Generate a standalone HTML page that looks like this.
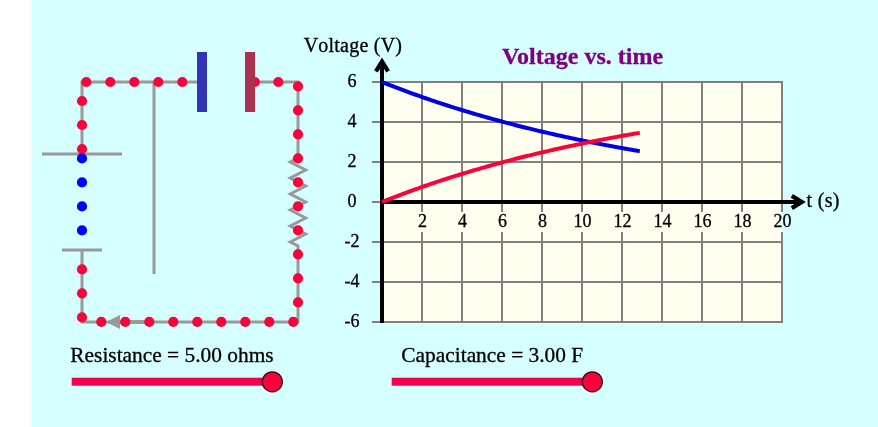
<!DOCTYPE html>
<html><head><meta charset="utf-8"><title>RC Circuit</title>
<style>
html,body{margin:0;padding:0;background:#fff;}
body{width:878px;height:427px;overflow:hidden;}
svg{display:block;}
text{font-family:"Liberation Serif","Times New Roman",Times,serif;fill:#000;stroke:#000;stroke-width:0.3px;}
</style></head><body>
<svg width="878" height="427" viewBox="0 0 878 427">
<rect x="31.6" y="0" width="847" height="427" fill="#d6ffff"/>

<g stroke="#999999" stroke-width="3" fill="none" stroke-linecap="butt" stroke-linejoin="miter">
<path d="M82 154 V82 H197"/>
<path d="M255 82 H298 V158"/>
<path d="M298 158 L290.3 162 L305.7 170 L290.3 178 L305.7 186 L290.3 194 L305.7 202 L290.3 210 L305.7 218 L290.3 226 L305.7 234 L290.3 242 L298 246 V322 H82 V250"/>
<path d="M154 82 V274"/>
<path d="M42 154 H122"/>
<path d="M62 250 H102"/>
</g>
<path d="M106 322 L120 315 V329 Z" fill="#999999"/>
<path d="M120 322 H146" stroke="#999999" stroke-width="4"/>
<g fill="#f8043a">
<circle cx="82.0" cy="149.0" r="5.1"/>
<circle cx="82.0" cy="125.0" r="5.1"/>
<circle cx="82.0" cy="101.0" r="5.1"/>
<circle cx="86.3" cy="82.0" r="5.1"/>
<circle cx="110.3" cy="82.0" r="5.1"/>
<circle cx="134.3" cy="82.0" r="5.1"/>
<circle cx="158.3" cy="82.0" r="5.1"/>
<circle cx="182.3" cy="82.0" r="5.1"/>
<circle cx="254.8" cy="82.0" r="5.1"/>
<circle cx="278.3" cy="82.0" r="5.1"/>
<circle cx="298.0" cy="86.3" r="5.1"/>
<circle cx="298.0" cy="110.3" r="5.1"/>
<circle cx="298.0" cy="134.3" r="5.1"/>
<circle cx="298.0" cy="158.3" r="5.1"/>
<circle cx="298.0" cy="182.3" r="5.1"/>
<circle cx="298.0" cy="206.3" r="5.1"/>
<circle cx="298.0" cy="230.3" r="5.1"/>
<circle cx="298.0" cy="254.3" r="5.1"/>
<circle cx="298.0" cy="278.3" r="5.1"/>
<circle cx="298.0" cy="302.3" r="5.1"/>
<circle cx="293.3" cy="321.9" r="5.1"/>
<circle cx="269.3" cy="321.9" r="5.1"/>
<circle cx="245.3" cy="321.9" r="5.1"/>
<circle cx="221.3" cy="321.9" r="5.1"/>
<circle cx="197.3" cy="321.9" r="5.1"/>
<circle cx="173.3" cy="321.9" r="5.1"/>
<circle cx="149.3" cy="321.9" r="5.1"/>
<circle cx="125.3" cy="321.9" r="5.1"/>
<circle cx="101.3" cy="321.9" r="5.1"/>
<circle cx="82.0" cy="317.4" r="5.1"/>
<circle cx="82.0" cy="293.3" r="5.1"/>
<circle cx="82.0" cy="269.4" r="5.1"/>
</g>
<g fill="#0000ff">
<circle cx="82" cy="158.4" r="5.1"/>
<circle cx="82" cy="182.4" r="5.1"/>
<circle cx="82" cy="206.4" r="5.1"/>
<circle cx="82" cy="230.4" r="5.1"/>
</g>
<rect x="197" y="52" width="10" height="60" fill="#3333b8"/>
<rect x="245" y="52" width="10" height="60" fill="#b03050"/>
<rect x="382" y="82" width="400" height="240" fill="#fffff0"/>
<g stroke="#808080" stroke-width="2">
<path d="M372 82 H783"/>
<path d="M372 122 H783"/>
<path d="M372 162 H783"/>
<path d="M372 202 H783"/>
<path d="M372 242 H783"/>
<path d="M372 282 H783"/>
<path d="M372 322 H783"/>
<path d="M422 81 V212 M422 232 V323"/>
<path d="M462 81 V212 M462 232 V323"/>
<path d="M502 81 V212 M502 232 V323"/>
<path d="M542 81 V212 M542 232 V323"/>
<path d="M582 81 V212 M582 232 V323"/>
<path d="M622 81 V212 M622 232 V323"/>
<path d="M662 81 V212 M662 232 V323"/>
<path d="M702 81 V212 M702 232 V323"/>
<path d="M742 81 V212 M742 232 V323"/>
<path d="M782 81 V212 M782 232 V323"/>
</g>
<g stroke="#000" stroke-width="4" fill="none" stroke-linejoin="miter" stroke-linecap="butt">
<path d="M382 323 V61"/>
<path d="M375.9 71.3 L382 61.6 L388.1 71.3" stroke-width="4.3"/>
<path d="M380 202 H801"/>
<path d="M791.8 195.9 L801.8 202 L791.8 208.1" stroke-width="4.2"/>
</g>
<path d="M382.00 82.00 L383.98 82.79 L385.97 83.58 L387.95 84.36 L389.93 85.13 L391.92 85.90 L393.90 86.67 L395.88 87.43 L397.86 88.18 L399.85 88.93 L401.83 89.68 L403.81 90.42 L405.80 91.15 L407.78 91.88 L409.76 92.61 L411.75 93.33 L413.73 94.04 L415.71 94.75 L417.70 95.46 L419.68 96.16 L421.66 96.86 L423.64 97.55 L425.63 98.24 L427.61 98.93 L429.59 99.60 L431.58 100.28 L433.56 100.95 L435.54 101.61 L437.53 102.28 L439.51 102.93 L441.49 103.59 L443.48 104.23 L445.46 104.88 L447.44 105.52 L449.42 106.15 L451.41 106.79 L453.39 107.41 L455.37 108.04 L457.36 108.66 L459.34 109.27 L461.32 109.88 L463.31 110.49 L465.29 111.09 L467.27 111.69 L469.26 112.28 L471.24 112.88 L473.22 113.46 L475.20 114.05 L477.19 114.63 L479.17 115.20 L481.15 115.77 L483.14 116.34 L485.12 116.91 L487.10 117.47 L489.09 118.02 L491.07 118.58 L493.05 119.13 L495.04 119.67 L497.02 120.21 L499.00 120.75 L500.98 121.29 L502.97 121.82 L504.95 122.35 L506.93 122.87 L508.92 123.39 L510.90 123.91 L512.88 124.43 L514.87 124.94 L516.85 125.45 L518.83 125.95 L520.82 126.45 L522.80 126.95 L524.78 127.44 L526.76 127.94 L528.75 128.42 L530.73 128.91 L532.71 129.39 L534.70 129.87 L536.68 130.34 L538.66 130.82 L540.65 131.28 L542.63 131.75 L544.61 132.21 L546.60 132.67 L548.58 133.13 L550.56 133.58 L552.54 134.03 L554.53 134.48 L556.51 134.93 L558.49 135.37 L560.48 135.81 L562.46 136.24 L564.44 136.68 L566.43 137.11 L568.41 137.53 L570.39 137.96 L572.38 138.38 L574.36 138.80 L576.34 139.22 L578.32 139.63 L580.31 140.04 L582.29 140.45 L584.27 140.86 L586.26 141.26 L588.24 141.66 L590.22 142.06 L592.21 142.45 L594.19 142.84 L596.17 143.23 L598.16 143.62 L600.14 144.00 L602.12 144.39 L604.10 144.77 L606.09 145.14 L608.07 145.52 L610.05 145.89 L612.04 146.26 L614.02 146.63 L616.00 146.99 L617.99 147.35 L619.97 147.71 L621.95 148.07 L623.94 148.43 L625.92 148.78 L627.90 149.13 L629.88 149.48 L631.87 149.83 L633.85 150.17 L635.83 150.51 L637.82 150.85 L639.80 151.19" stroke="#0000e4" stroke-width="4" fill="none"/>
<path d="M382.00 202.00 L383.98 201.21 L385.97 200.42 L387.95 199.64 L389.93 198.87 L391.92 198.10 L393.90 197.33 L395.88 196.57 L397.86 195.82 L399.85 195.07 L401.83 194.32 L403.81 193.58 L405.80 192.85 L407.78 192.12 L409.76 191.39 L411.75 190.67 L413.73 189.96 L415.71 189.25 L417.70 188.54 L419.68 187.84 L421.66 187.14 L423.64 186.45 L425.63 185.76 L427.61 185.07 L429.59 184.40 L431.58 183.72 L433.56 183.05 L435.54 182.39 L437.53 181.72 L439.51 181.07 L441.49 180.41 L443.48 179.77 L445.46 179.12 L447.44 178.48 L449.42 177.85 L451.41 177.21 L453.39 176.59 L455.37 175.96 L457.36 175.34 L459.34 174.73 L461.32 174.12 L463.31 173.51 L465.29 172.91 L467.27 172.31 L469.26 171.72 L471.24 171.12 L473.22 170.54 L475.20 169.95 L477.19 169.37 L479.17 168.80 L481.15 168.23 L483.14 167.66 L485.12 167.09 L487.10 166.53 L489.09 165.98 L491.07 165.42 L493.05 164.87 L495.04 164.33 L497.02 163.79 L499.00 163.25 L500.98 162.71 L502.97 162.18 L504.95 161.65 L506.93 161.13 L508.92 160.61 L510.90 160.09 L512.88 159.57 L514.87 159.06 L516.85 158.55 L518.83 158.05 L520.82 157.55 L522.80 157.05 L524.78 156.56 L526.76 156.06 L528.75 155.58 L530.73 155.09 L532.71 154.61 L534.70 154.13 L536.68 153.66 L538.66 153.18 L540.65 152.72 L542.63 152.25 L544.61 151.79 L546.60 151.33 L548.58 150.87 L550.56 150.42 L552.54 149.97 L554.53 149.52 L556.51 149.07 L558.49 148.63 L560.48 148.19 L562.46 147.76 L564.44 147.32 L566.43 146.89 L568.41 146.47 L570.39 146.04 L572.38 145.62 L574.36 145.20 L576.34 144.78 L578.32 144.37 L580.31 143.96 L582.29 143.55 L584.27 143.14 L586.26 142.74 L588.24 142.34 L590.22 141.94 L592.21 141.55 L594.19 141.16 L596.17 140.77 L598.16 140.38 L600.14 140.00 L602.12 139.61 L604.10 139.23 L606.09 138.86 L608.07 138.48 L610.05 138.11 L612.04 137.74 L614.02 137.37 L616.00 137.01 L617.99 136.65 L619.97 136.29 L621.95 135.93 L623.94 135.57 L625.92 135.22 L627.90 134.87 L629.88 134.52 L631.87 134.17 L633.85 133.83 L635.83 133.49 L637.82 133.15 L639.80 132.81" stroke="#f8043a" stroke-width="4" fill="none"/>
<g font-size="18" text-anchor="middle">
<text x="352" y="87.2">6</text>
<text x="352" y="127.2">4</text>
<text x="352" y="167.2">2</text>
<text x="352" y="207.2">0</text>
<text x="352" y="247.2">-2</text>
<text x="352" y="287.2">-4</text>
<text x="352" y="327.2">-6</text>
<text x="422.4" y="227">2</text>
<text x="462.4" y="227">4</text>
<text x="502.4" y="227">6</text>
<text x="542.4" y="227">8</text>
<text x="582.4" y="227">10</text>
<text x="622.4" y="227">12</text>
<text x="662.4" y="227">14</text>
<text x="702.4" y="227">16</text>
<text x="742.4" y="227">18</text>
<text x="782.4" y="227">20</text>
</g>
<text x="303.7" y="52" font-size="20" style="font-kerning:none;letter-spacing:0.22px">Voltage (V)</text>
<text x="806.4" y="207.4" font-size="20" style="font-kerning:none;letter-spacing:0.35px">t (s)</text>
<text x="582.5" y="64" font-size="24" font-weight="bold" text-anchor="middle" style="fill:#800080;stroke:#800080">Voltage vs. time</text>
<text x="70.3" y="361.5" font-size="21.4">Resistance = 5.00 ohms</text>
<text x="401.3" y="361.5" font-size="21.4">Capacitance = 3.00 F</text>
<rect x="71.7" y="377.7" width="200" height="8" fill="#f50050"/>
<circle cx="272.3" cy="381.8" r="10" fill="#f8043a" stroke="#40000c" stroke-width="1.3"/>
<rect x="391.7" y="377.7" width="200" height="8" fill="#f50050"/>
<circle cx="592.3" cy="381.8" r="10" fill="#f8043a" stroke="#40000c" stroke-width="1.3"/>
</svg></body></html>
